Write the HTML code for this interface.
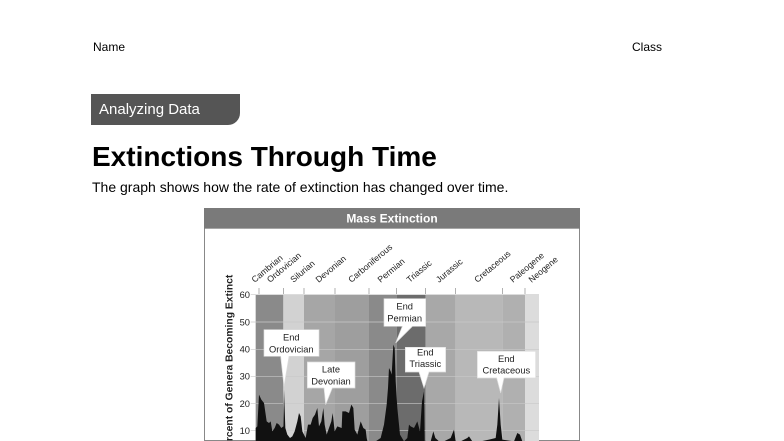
<!DOCTYPE html>
<html><head><style>
body{margin:0;width:784px;height:441px;background:#fff;position:relative;overflow:hidden;font-family:"Liberation Sans",Arial,sans-serif}
.a{position:absolute}
</style></head><body>
<div class="a" style="left:93px;top:40px;font-size:12px">Name</div>
<div class="a" style="left:632px;top:40px;font-size:12px">Class</div>
<div class="a" style="left:91px;top:94px;width:149px;height:31px;background:#555;border-radius:0 0 12px 0;color:#fff;font-size:15px;line-height:31px;text-indent:8px">Analyzing Data</div>
<div class="a" style="left:92px;top:141px;font-size:28px;font-weight:bold">Extinctions Through Time</div>
<div class="a" style="left:92px;top:179px;font-size:14px">The graph shows how the rate of extinction has changed over time.</div>
<svg class="a" style="left:204px;top:208px" width="376" height="233" viewBox="0 0 1128 699">
<rect x="0" y="0" width="1128" height="699" fill="#fff" stroke="#888" stroke-width="6"/>
<rect x="0" y="0" width="1128" height="62" fill="#7a7a7a"/>
<text x="564" y="44" font-size="36" font-weight="bold" fill="#fff" text-anchor="middle" font-family="Liberation Sans">Mass Extinction</text>
<g>
<rect x="155" y="260" width="83" height="450" fill="#8a8a8a"/>
<rect x="238" y="260" width="62" height="450" fill="#d2d2d2"/>
<rect x="300" y="260" width="93" height="450" fill="#a6a6a6"/>
<rect x="393" y="260" width="102" height="450" fill="#9e9e9e"/>
<rect x="495" y="260" width="83" height="450" fill="#8a8a8a"/>
<rect x="578" y="260" width="87" height="450" fill="#6c6c6c"/>
<rect x="665" y="260" width="90" height="450" fill="#a8a8a8"/>
<rect x="755" y="260" width="140" height="450" fill="#b8b8b8"/>
<rect x="895" y="260" width="68" height="450" fill="#b0b0b0"/>
<rect x="963" y="260" width="42" height="450" fill="#dcdcdc"/>
</g>
<g stroke="#c8c8c8" stroke-width="2">
<line x1="140" y1="260" x2="1005" y2="260"/><line x1="140" y1="342" x2="1005" y2="342"/><line x1="140" y1="424" x2="1005" y2="424"/><line x1="140" y1="505" x2="1005" y2="505"/><line x1="140" y1="587" x2="1005" y2="587"/><line x1="140" y1="668" x2="1005" y2="668"/>
</g>
<g stroke="#888" stroke-width="2">
<line x1="165" y1="240" x2="165" y2="258"/><line x1="238" y1="240" x2="238" y2="258"/><line x1="300" y1="240" x2="300" y2="258"/><line x1="393" y1="240" x2="393" y2="258"/><line x1="495" y1="240" x2="495" y2="258"/><line x1="578" y1="240" x2="578" y2="258"/><line x1="665" y1="240" x2="665" y2="258"/><line x1="755" y1="240" x2="755" y2="258"/><line x1="895" y1="240" x2="895" y2="258"/><line x1="963" y1="240" x2="963" y2="258"/>
</g>
<polygon fill="#111" points="155,750 155,660 160,655 165,560 172,575 180,585 188,640 195,645 200,640 205,670 212,660 218,645 225,650 232,660 238,655 240,545 244,660 250,680 258,690 265,685 272,670 280,640 285,615 290,625 295,670 305,690 312,650 320,650 326,630 333,620 340,600 345,655 352,640 358,600 362,650 368,680 375,660 382,640 386,615 392,670 400,655 413,660 415,610 425,610 435,615 442,590 448,600 452,665 460,680 470,640 478,660 485,665 488,690 495,720 515,700 530,690 540,650 548,590 552,540 555,480 560,490 563,500 568,410 572,420 575,520 580,600 588,680 600,700 610,690 615,650 620,655 630,660 640,640 648,670 654,580 660,550 662,700 670,710 680,700 688,670 694,690 705,700 720,700 740,690 750,665 755,700 770,700 790,690 795,685 805,700 830,700 855,695 875,690 880,650 885,570 890,650 895,695 930,700 940,675 948,680 955,700 1005,720 1005,750"/>
<g font-family="Liberation Sans" font-size="28" fill="#222" text-anchor="end">
<text x="138" y="270">60</text><text x="138" y="352">50</text><text x="138" y="434">40</text><text x="138" y="515">30</text><text x="138" y="597">20</text><text x="138" y="678">10</text>
</g>
<text transform="translate(86,200) rotate(-90)" text-anchor="end" font-family="Liberation Sans" font-size="31" font-weight="bold" fill="#222">Percent of Genera Becoming Extinct</text>
<g font-family="Liberation Sans" font-size="26" fill="#222">
<text transform="translate(152,225) rotate(-40)">Cambrian</text>
<text transform="translate(198,225) rotate(-40)">Ordovician</text>
<text transform="translate(268,225) rotate(-40)">Silurian</text>
<text transform="translate(344,225) rotate(-40)">Devonian</text>
<text transform="translate(442,225) rotate(-40)">Carboniferous</text>
<text transform="translate(530,225) rotate(-40)">Permian</text>
<text transform="translate(617,225) rotate(-40)">Triassic</text>
<text transform="translate(705,225) rotate(-40)">Jurassic</text>
<text transform="translate(820,225) rotate(-40)">Cretaceous</text>
<text transform="translate(927,225) rotate(-40)">Paleogene</text>
<text transform="translate(983,225) rotate(-40)">Neogene</text>
</g>
<g fill="#fff" stroke="#ddd" stroke-width="2">
<path d="M180,365 H345 V445 H255 L240,535 L230,445 H180 Z"/>
<path d="M310,462 H453 V540 H385 L365,590 L360,540 H310 Z"/>
<path d="M540,272 H665 V355 H625 L575,405 L595,355 H540 Z"/>
<path d="M604,418 H725 V492 H675 L660,540 L645,492 H604 Z"/>
<path d="M820,430 H995 V510 H900 L890,555 L878,510 H820 Z"/>
</g>
<g font-family="Liberation Sans" font-size="28" fill="#222" text-anchor="middle">
<text x="262" y="398">End</text><text x="262" y="433">Ordovician</text>
<text x="381" y="494">Late</text><text x="381" y="529">Devonian</text>
<text x="602" y="305">End</text><text x="602" y="340">Permian</text>
<text x="664" y="442">End</text><text x="664" y="477">Triassic</text>
<text x="907" y="462">End</text><text x="907" y="497">Cretaceous</text>
</g>
</svg>
</body></html>
